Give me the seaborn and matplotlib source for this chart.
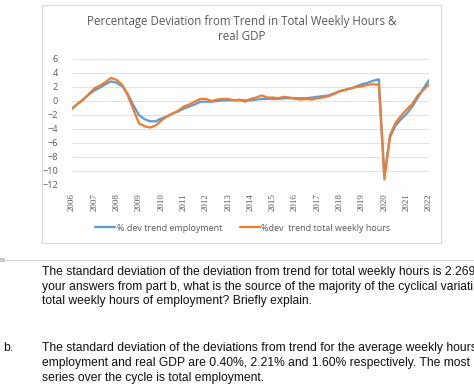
import numpy as np
import pandas as pd
import matplotlib
matplotlib.use("Agg")
import matplotlib.pyplot as plt
from matplotlib.patches import Rectangle
from matplotlib.lines import Line2D
import seaborn as sns

# quarterly % deviation from trend, 2006Q1 .. 2022Q1
emp = [-1.1, -0.4, 0.2, 0.9, 1.5, 1.9, 2.4, 2.8,
       2.6, 2.1, 1.0, -0.6, -2.0, -2.6, -2.9, -2.9,
       -2.5, -2.2, -1.8, -1.5, -1.1, -0.8, -0.5, -0.1,
       -0.1, -0.1, 0.0, 0.1, 0.1, 0.1, 0.1, 0.1,
       0.1, 0.2, 0.3, 0.3, 0.3, 0.3, 0.4, 0.4,
       0.4, 0.4, 0.4, 0.5, 0.6, 0.7, 0.8, 1.1,
       1.4, 1.6, 1.8, 2.1, 2.4, 2.6, 2.9, 3.1,
       -10.6, -5.2, -3.5, -2.6, -1.8, -0.8, 0.5, 1.8,
       3.0]
hours = [-1.1, -0.4, 0.2, 1.0, 1.8, 2.2, 2.7, 3.3,
         3.0, 2.3, 0.8, -1.2, -3.2, -3.6, -3.8, -3.5,
         -2.8, -2.2, -1.8, -1.4, -0.8, -0.5, -0.1, 0.3,
         0.3, 0.0, 0.2, 0.3, 0.3, 0.1, 0.2, -0.1,
         0.3, 0.5, 0.8, 0.5, 0.5, 0.4, 0.6, 0.5,
         0.3, 0.2, 0.3, 0.2, 0.4, 0.5, 0.7, 1.0,
         1.4, 1.6, 1.8, 2.0, 2.1, 2.3, 2.4, 2.3,
         -11.2, -4.9, -3.1, -2.1, -1.2, -0.4, 0.8, 1.6,
         2.4]
years = [str(y) for y in range(2006, 2023)]
emp_label = "% dev trend employment"
hours_label = "%dev  trend total weekly hours"

W, H = 474, 387

def fx(px):
    return px / W

def fy(py):
    return 1 - py / H

df = pd.DataFrame({
    "q": list(range(len(emp))) * 2,
    "value": emp + hours,
    "series": [emp_label] * len(emp) + [hours_label] * len(hours),
})

sns.set_style("white")
plt.rcParams['font.family'] = ['Open Sans', 'DejaVu Sans']

fig = plt.figure(figsize=(W / 100, H / 100), dpi=100)
fig.patch.set_facecolor("white")
ax = fig.add_axes([fx(72), fy(185), fx(429 - 72), (185 - 59) / H])

sns.lineplot(data=df, x="q", y="value", hue="series",
             palette=["#5B9BD5", "#ED7D31"], linewidth=1.6,
             legend=False, ax=ax)

ax.set_xlim(0, len(emp) - 1)
ax.set_ylim(-12, 6)
ax.set_yticks(range(-12, 7, 2))
ax.set_xticks(range(0, len(emp), 4))
ax.set_xticklabels(years, rotation=90, fontsize=6.5, color="#595959",
                   family="Liberation Serif")
ax.tick_params(axis="y", labelsize=6.6, colors="#595959", length=0, pad=10)
ax.tick_params(axis="x", length=0, pad=6)
ax.grid(axis="y", color="#e3e3e3", linewidth=0.8)
ax.grid(axis="x", visible=False)
for s in ax.spines.values():
    s.set_visible(False)
ax.set_xlabel("")
ax.set_ylabel("")

fig.text(fx(242), fy(21.5), "Percentage Deviation from Trend in Total Weekly Hours &",
         ha="center", va="center", fontsize=8.3, color="#595959")
fig.text(fx(242), fy(37), "real GDP", ha="center", va="center",
         fontsize=8.3, color="#595959")

handles = [Line2D([], [], color="#5B9BD5", linewidth=1.6),
           Line2D([], [], color="#ED7D31", linewidth=1.6)]
fig.legend(handles, [emp_label, hours_label], loc="center",
           bbox_to_anchor=(fx(243), fy(228)), ncol=2, frameon=False,
           fontsize=6.5, labelcolor="#595959", handlelength=2.2,
           handletextpad=0.2, columnspacing=1.9)

# chart border, separator line
fig.patches.append(Rectangle((fx(41.5), fy(243)), fx(441 - 41.5), (243 - 4.5) / H,
                             transform=fig.transFigure, fill=False,
                             edgecolor="#d9d9d9", linewidth=0.8))
fig.add_artist(Line2D([0, 1], [fy(260), fy(260)], transform=fig.transFigure,
                      color="#d0d0d0", linewidth=0.8))
fig.patches.append(Rectangle((0, fy(262)), fx(5), 4 / H, transform=fig.transFigure,
                             facecolor="#c8c8c8", edgecolor="none"))

body = dict(fontsize=8.7, color="#111111", family="Liberation Sans",
            va="center", ha="left")
lines_a = ["The standard deviation of the deviation from trend for total weekly hours is 2.269",
           "your answers from part b, what is the source of the majority of the cyclical variati",
           "total weekly hours of employment? Briefly explain."]
lines_b = ["The standard deviation of the deviations from trend for the average weekly hours",
           "employment and real GDP are 0.40%, 2.21% and 1.60% respectively. The most",
           "series over the cycle is total employment."]
for i, t in enumerate(lines_a):
    fig.text(fx(42), fy(272 + 14.6 * i), t, **body)
fig.text(fx(3), fy(348), "b.", **body)
for i, t in enumerate(lines_b):
    fig.text(fx(42), fy(348 + 14.8 * i), t, **body)

fig.savefig("out.png", dpi=100)
